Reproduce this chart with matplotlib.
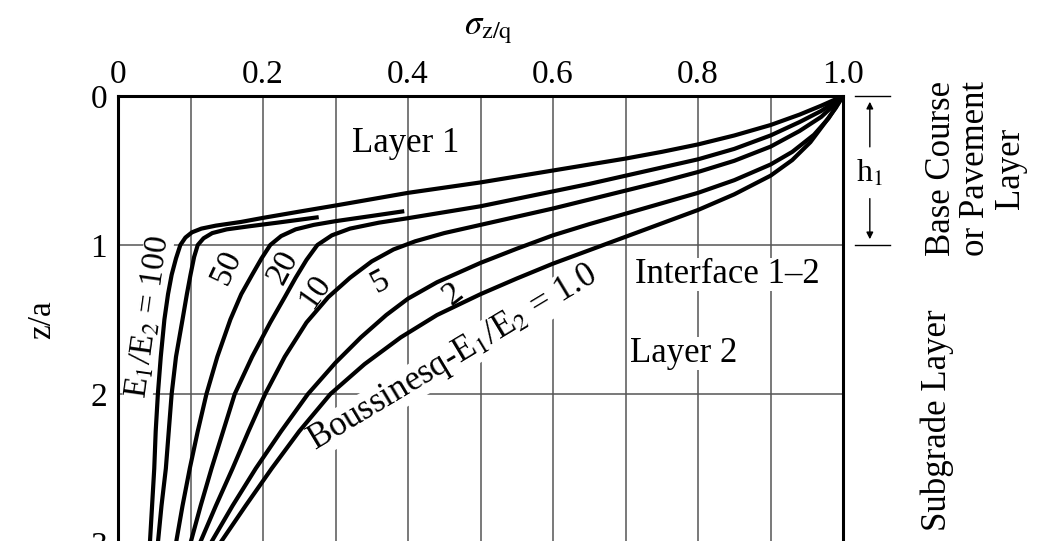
import matplotlib
matplotlib.use("Agg")
import matplotlib.pyplot as plt
import numpy as np

plt.rcParams["font.family"] = ["Liberation Serif", "DejaVu Serif"]
plt.rcParams["mathtext.fontset"] = "stix"

# sigma_z/q (x) and z/a (y), by E1/E2
ratios = ["100", "50", "20", "10", "5", "2", "1.0"]

sig_100 = [0.044, 0.047, 0.050, 0.052, 0.055, 0.059, 0.064, 0.069, 0.074, 0.080, 0.086, 0.093, 0.102,
           0.115, 0.135, 0.170, 0.200, 0.250, 0.300, 0.400, 0.500, 0.600, 0.650, 0.700, 0.750, 0.800,
           0.850, 0.900, 0.940, 0.970, 1.000]
z_100 = [3.00, 2.75, 2.50, 2.25, 2.00, 1.75, 1.50, 1.33, 1.20, 1.09, 1.00, 0.95, 0.915,
         0.89, 0.87, 0.845, 0.818, 0.776, 0.735, 0.650, 0.580, 0.500, 0.460, 0.420, 0.375, 0.325,
         0.265, 0.195, 0.125, 0.065, 0.0]

sig_50 = [0.055, 0.060, 0.066, 0.070, 0.074, 0.080, 0.089, 0.095, 0.100, 0.105, 0.110, 0.118, 0.130,
          0.150, 0.180, 0.220, 0.274]
z_50 = [3.00, 2.75, 2.50, 2.25, 2.00, 1.75, 1.50, 1.33, 1.20, 1.08, 1.00, 0.955, 0.92,
        0.895, 0.875, 0.85, 0.815]

sig_20 = [0.080, 0.089, 0.099, 0.110, 0.122, 0.137, 0.155, 0.170, 0.185, 0.198, 0.210, 0.225, 0.245,
          0.270, 0.300, 0.350, 0.392]
z_20 = [3.00, 2.75, 2.50, 2.25, 2.00, 1.75, 1.50, 1.33, 1.20, 1.09, 1.00, 0.94, 0.895,
        0.865, 0.84, 0.805, 0.775]

sig_10 = [0.100, 0.114, 0.129, 0.145, 0.161, 0.185, 0.210, 0.230, 0.245, 0.260, 0.275, 0.295, 0.320,
          0.360, 0.400, 0.450, 0.500, 0.550, 0.600, 0.650, 0.700, 0.750, 0.800, 0.850, 0.900, 0.940,
          0.970, 0.990, 1.000]
z_10 = [3.00, 2.75, 2.50, 2.25, 2.00, 1.75, 1.52, 1.35, 1.22, 1.10, 1.00, 0.935, 0.89,
        0.85, 0.82, 0.78, 0.74, 0.69, 0.64, 0.59, 0.535, 0.48, 0.425, 0.355, 0.265, 0.175,
        0.10, 0.035, 0.0]

sig_5 = [0.113, 0.135, 0.158, 0.180, 0.203, 0.230, 0.260, 0.290, 0.320, 0.350, 0.380, 0.410, 0.450,
         0.500, 0.550, 0.600, 0.650, 0.700, 0.750, 0.800, 0.850, 0.900, 0.940, 0.970, 0.990, 1.000]
z_5 = [3.00, 2.75, 2.50, 2.25, 2.00, 1.75, 1.52, 1.35, 1.22, 1.11, 1.03, 0.975, 0.92,
       0.865, 0.81, 0.755, 0.695, 0.635, 0.575, 0.51, 0.435, 0.34, 0.235, 0.14, 0.05, 0.0]

sig_2 = [0.128, 0.158, 0.190, 0.225, 0.262, 0.300, 0.335, 0.370, 0.400, 0.440, 0.500, 0.550, 0.600,
         0.650, 0.700, 0.750, 0.800, 0.850, 0.900, 0.930, 0.960, 0.980, 1.000]
z_2 = [3.00, 2.75, 2.50, 2.25, 2.00, 1.79, 1.62, 1.47, 1.36, 1.25, 1.12, 1.025, 0.935,
       0.86, 0.79, 0.72, 0.65, 0.565, 0.46, 0.375, 0.26, 0.15, 0.0]

sig_1 = [0.141, 0.176, 0.212, 0.250, 0.293, 0.340, 0.390, 0.440, 0.500, 0.550, 0.600, 0.650, 0.700,
         0.750, 0.800, 0.850, 0.900, 0.930, 0.955, 0.975, 0.990, 1.000]
z_1 = [3.00, 2.75, 2.50, 2.25, 2.00, 1.80, 1.62, 1.47, 1.33, 1.225, 1.125, 1.035, 0.945,
       0.855, 0.765, 0.66, 0.535, 0.43, 0.31, 0.18, 0.08, 0.0]

curves = [(sig_100, z_100), (sig_50, z_50), (sig_20, z_20), (sig_10, z_10),
          (sig_5, z_5), (sig_2, z_2), (sig_1, z_1)]

x_ticks = [0, 0.2, 0.4, 0.6, 0.8, 1.0]
x_tick_labels = ["0", "0.2", "0.4", "0.6", "0.8", "1.0"]
y_ticks = [0, 1, 2, 3]
y_tick_labels = ["0", "1", "2", "3"]

fig = plt.figure(figsize=(10.38, 5.41), dpi=100)
ax = fig.add_axes([118 / 1038, -2 / 541, 725 / 1038, 447 / 541])

for sig, z in curves:
    ax.plot(sig, z, color="black", lw=3.0, solid_joinstyle="round", zorder=3)

ax.set_xlim(0, 1.0)
ax.set_ylim(3, 0)
ax.xaxis.tick_top()
ax.set_xticks(x_ticks)
ax.set_xticklabels(x_tick_labels, fontsize=24)
ax.set_xticks(np.arange(0.1, 1.0, 0.1), minor=True)
ax.set_yticks(y_ticks)
ax.set_yticklabels(y_tick_labels, fontsize=24)
ax.tick_params(which="both", length=0)
ax.tick_params(axis="x", pad=4)
ax.tick_params(axis="y", pad=8)
ax.grid(True, which="both", color="#555555", lw=1.1)
ax.set_axisbelow(True)
for s in ax.spines.values():
    s.set_linewidth(2.2)

ax.set_ylabel("z/a", fontsize=24, labelpad=24)
# sigma label sits above the top tick labels
fig.text(488 / 1038, 1 - 30 / 541, r"$\sigma_{\mathrm{z/q}}$", fontsize=25,
         ha="center", va="center")

white = dict(fc="white", ec="none", pad=0)

# region labels
ax.text(0.397, 0.32, "Layer 1", fontsize=25, ha="center", va="center")
ax.text(0.84, 1.20, "Interface 1\u20132", fontsize=25, ha="center", va="center",
        bbox=white, zorder=2.5)
ax.text(0.78, 1.73, "Layer 2", fontsize=25, ha="center", va="center",
        bbox=white, zorder=2.5)

# curve labels
ax.text(0.042, 1.48, r"E$_1$/E$_2$ = 100", fontsize=24, rotation=82,
        ha="center", va="center", bbox=white, zorder=2.5)
ax.text(0.150, 1.15, "50", fontsize=24, rotation=65, ha="center", va="center")
ax.text(0.228, 1.15, "20", fontsize=24, rotation=62, ha="center", va="center")
ax.text(0.272, 1.31, "10", fontsize=24, rotation=55, ha="center", va="center")
ax.text(0.362, 1.25, "5", fontsize=24, rotation=28, ha="center", va="center")
ax.text(0.462, 1.33, "2", fontsize=24, rotation=38, ha="center", va="center")
ax.text(0.462, 1.76, r"Boussinesq-E$_1$/E$_2$ = 1.0", fontsize=25, rotation=31,
        ha="center", va="center", bbox=white, zorder=2.5)

# h1 dimension on the right
ax.plot([1.017, 1.065], [0, 0], color="black", lw=1.0, clip_on=False)
ax.plot([1.017, 1.065], [1, 1], color="black", lw=1.0, clip_on=False)
ax.annotate("", xy=(1.037, 0.02), xytext=(1.037, 0.36),
            arrowprops=dict(arrowstyle="-|>", color="black", lw=1.0), annotation_clip=False)
ax.annotate("", xy=(1.037, 0.98), xytext=(1.037, 0.67),
            arrowprops=dict(arrowstyle="-|>", color="black", lw=1.0), annotation_clip=False)
ax.text(1.037, 0.52, r"h$_1$", fontsize=23, ha="center", va="center", clip_on=False)

fig.text(937 / 1038, 1 - 420 / 541, "Subgrade Layer", fontsize=25, rotation=90,
         ha="center", va="center")
fig.text(976 / 1038, 1 - 168 / 541, "Base Course\nor Pavement\nLayer", fontsize=25,
         rotation=90, ha="center", va="center", multialignment="center", linespacing=1.08)

fig.savefig("out.png", dpi=100)
